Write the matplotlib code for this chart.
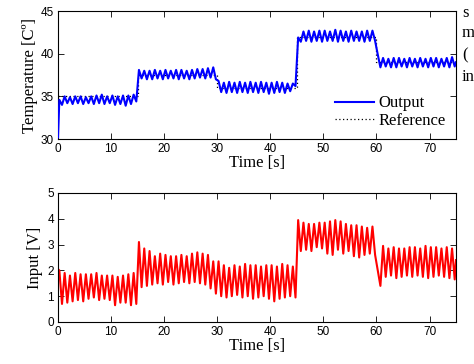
import numpy as np
import matplotlib
matplotlib.use("Agg")
import matplotlib.pyplot as plt

# extrema times: one value every half second (peak, trough, peak, ...)
t_ext = np.arange(0.25, 75, 0.5)

# temperature output, peak/trough pairs read per second
out_start, out_end = 30.2, 39.0
out_vals = [
    # 0-15 s
    34.6, 34.0, 35.0, 34.2, 34.9, 34.1, 35.0, 34.2, 35.0, 34.1,
    34.9, 34.2, 35.0, 34.1, 35.1, 34.2, 35.2, 34.1, 35.0, 34.2,
    35.1, 34.0, 35.0, 34.1, 35.1, 33.9, 35.1, 34.1, 35.2, 34.4,
    # 15-30 s
    38.1, 37.1, 38.0, 37.0, 38.0, 37.0, 38.1, 37.1, 38.0, 37.0,
    38.1, 37.1, 38.0, 37.1, 38.1, 37.0, 38.1, 37.1, 38.0, 37.0,
    38.1, 37.1, 38.2, 37.2, 38.2, 37.1, 38.3, 37.2, 38.4, 37.0,
    # 30-45 s
    36.8, 35.5, 36.6, 35.4, 36.7, 35.5, 36.6, 35.4, 36.7, 35.5,
    36.6, 35.4, 36.7, 35.5, 36.6, 35.4, 36.7, 35.5, 36.6, 35.3,
    36.6, 35.4, 36.7, 35.5, 36.6, 35.4, 36.5, 35.6, 36.5, 36.2,
    # 45-60 s
    41.9, 41.4, 42.6, 41.5, 42.7, 41.4, 42.6, 41.5, 42.7, 41.4,
    42.7, 41.5, 42.6, 41.5, 42.8, 41.4, 42.7, 41.5, 42.6, 41.4,
    42.7, 41.5, 42.6, 41.5, 42.6, 41.4, 42.7, 41.5, 42.7, 41.5,
    # 60-75 s
    39.9, 38.4, 39.5, 38.5, 39.4, 38.4, 39.5, 38.4, 39.5, 38.5,
    39.4, 38.4, 39.5, 38.5, 39.4, 38.4, 39.5, 38.5, 39.4, 38.4,
    39.5, 38.5, 39.5, 38.4, 39.4, 38.5, 39.5, 38.4, 39.6, 38.5,
]

# reference setpoints
ref_edges = [0, 15, 30, 45, 60, 75]
ref_levels = [35, 37.5, 36, 42, 39]

# input voltage
in_start, in_end = 2.05, 2.4
in_vals = [
    # 0-15 s
    2.0, 0.7, 1.9, 0.75, 1.8, 0.8, 1.9, 0.85, 1.85, 0.8,
    1.85, 0.9, 1.85, 0.95, 1.9, 0.85, 1.8, 0.9, 1.8, 0.85,
    1.8, 0.65, 1.75, 0.75, 1.8, 0.75, 1.85, 0.65, 1.9, 0.7,
    # 15-30 s
    3.1, 1.35, 2.85, 1.4, 2.75, 1.45, 2.55, 1.5, 2.65, 1.45,
    2.6, 1.55, 2.55, 1.45, 2.55, 1.5, 2.6, 1.55, 2.55, 1.5,
    2.65, 1.55, 2.7, 1.5, 2.65, 1.45, 2.6, 1.3, 2.35, 1.1,
    # 30-45 s
    2.35, 1.0, 2.2, 0.95, 2.1, 1.0, 2.2, 1.05, 2.15, 0.95,
    2.25, 1.0, 2.2, 0.9, 2.2, 0.95, 2.15, 1.0, 2.2, 0.9,
    2.2, 0.8, 2.15, 0.9, 2.25, 0.95, 2.2, 1.0, 2.15, 0.95,
    # 45-60 s
    3.95, 2.75, 3.85, 2.8, 3.8, 2.75, 3.8, 2.9, 3.85, 2.85,
    3.85, 2.65, 3.9, 2.6, 3.95, 2.8, 3.9, 2.65, 3.8, 2.75,
    3.75, 2.55, 3.75, 2.5, 3.7, 2.6, 3.65, 2.65, 3.7, 2.6,
    # 60-75 s
    2.0, 1.4, 2.95, 1.75, 2.85, 1.8, 2.9, 1.7, 2.85, 1.75,
    2.85, 1.8, 2.9, 1.75, 2.9, 1.8, 2.85, 1.75, 2.95, 1.7,
    2.9, 1.75, 2.9, 1.8, 2.85, 1.75, 2.9, 1.7, 2.85, 1.65,
]

serif = "Liberation Serif"
sans = "Liberation Sans"

fig = plt.figure(figsize=(4.74, 3.64), dpi=100)
ax1 = fig.add_axes([0.1224, 0.6181, 0.8397, 0.3516])
ax2 = fig.add_axes([0.1224, 0.1154, 0.8397, 0.3544])

t_full = np.concatenate([[0], t_ext, [75]])
out_full = np.concatenate([[out_start], out_vals, [out_end]])
in_full = np.concatenate([[in_start], in_vals, [in_end]])

ref_t = np.repeat(ref_edges, 2)[1:-1]
ref_y = np.repeat(ref_levels, 2)

ax1.plot(t_full, out_full, color="#0000ff", lw=1.5, label="Output", zorder=3,
         solid_joinstyle="round")
ax1.plot(ref_t, ref_y, color="black", lw=0.9, ls=(0, (1, 2)), label="Reference", zorder=2)
ax1.set_xlim(0, 75)
ax1.set_ylim(30, 45)
ax1.set_yticks([30, 35, 40, 45])
ax1.set_ylabel("Temperature [Cº]", fontfamily=serif, fontsize=12, labelpad=2)
leg = ax1.legend(loc="lower right", frameon=False, prop={"family": serif, "size": 12},
                 handlelength=2.3, handletextpad=0.3, labelspacing=0.1,
                 borderaxespad=0.2)

ax2.plot(t_full, in_full, color="#ff0000", lw=1.5, solid_joinstyle="round")
ax2.set_xlim(0, 75)
ax2.set_ylim(0, 5)
ax2.set_yticks([0, 1, 2, 3, 4, 5])
ax2.set_ylabel("Input [V]", fontfamily=serif, fontsize=12, labelpad=3)

for ax in (ax1, ax2):
    ax.set_xticks(np.arange(0, 80, 10))
    ax.set_xlabel("Time [s]", fontfamily=serif, fontsize=12, labelpad=0)
    ax.tick_params(direction="in", top=True, right=True, length=4, width=0.6,
                   labelsize=8.5, pad=3)
    for lab in ax.get_xticklabels() + ax.get_yticklabels():
        lab.set_fontfamily(sans)
    for sp in ax.spines.values():
        sp.set_linewidth(0.8)

# text of the surrounding page at the right edge
for txt, y in [("s", 13), ("m", 33), ("(", 55), ("in", 77)]:
    fig.text(462 / 474, 1 - y / 364, txt, fontfamily=serif, fontsize=12,
             va="center", ha="left")

fig.savefig("out.png", dpi=100)
